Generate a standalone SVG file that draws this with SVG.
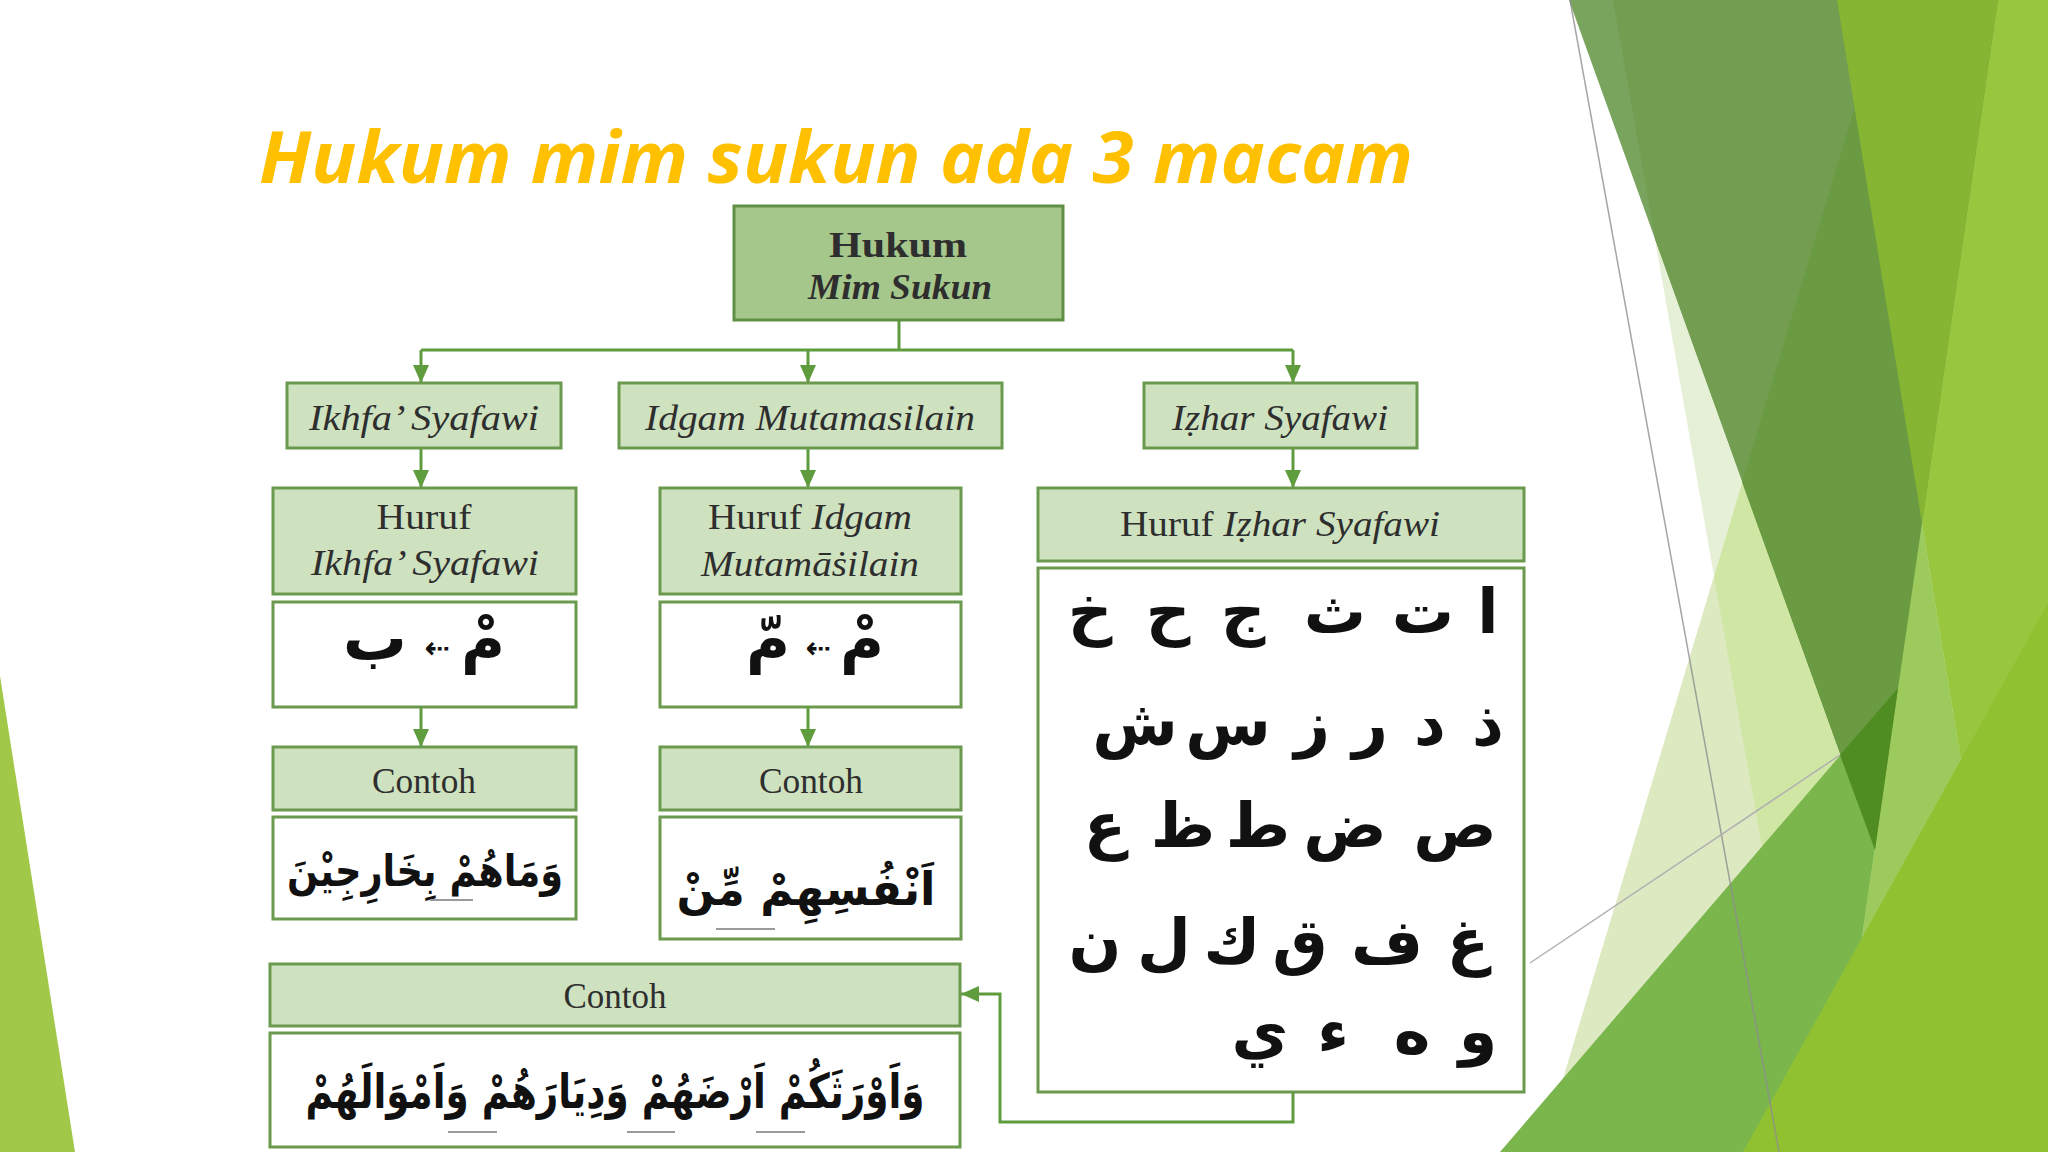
<svg xmlns="http://www.w3.org/2000/svg" width="2048" height="1152" viewBox="0 0 2048 1152">
<defs>
<style>
.box{fill:#cfe2c0;stroke:#6b9a4f;stroke-width:3}
.top{fill:#a6c78b;stroke:#5f8f45;stroke-width:3}
.wbox{fill:#ffffff;stroke:#6b9a4f;stroke-width:3}
.t{font-family:"Liberation Serif",serif;font-size:36px;fill:#2e2e2e;text-anchor:middle}
.i{font-style:italic}
.b{font-weight:bold}
.ar{font-family:"DejaVu Sans",sans-serif;font-weight:bold;fill:#111111;text-anchor:middle}
.lt{font-family:"DejaVu Sans",sans-serif;font-weight:bold;fill:#111111;text-anchor:middle;font-size:62px}
.conn{stroke:#5e9c3e;stroke-width:3;fill:none}
.ul{stroke:#9a9a9a;stroke-width:2}
</style>
<marker id="ah" markerUnits="userSpaceOnUse" markerWidth="18" markerHeight="16" refX="18" refY="8" orient="auto">
<path d="M0,0 L18,8 L0,16 z" fill="#5e9c3e"/>
</marker>
</defs>
<rect width="2048" height="1152" fill="#ffffff"/>
<g id="background">
<polygon points="1887,0 2048,0 2048,1152 1541,1152" fill="#dde9c0"/>
<polygon points="1887,0 2048,0 2048,1152 1816,1152 1714,576" fill="#d0e6a4"/>
<polygon points="1613,0 1887,0 1714,576" fill="#e6f0d6"/>
<polygon points="1569,0 1998,0 1875,850" fill="#79a45e"/>
<polygon points="1613,0 1998,0 1875,850 1655,239" fill="#739e52"/>
<polygon points="1887,0 1998,0 1875,850 1742,482" fill="#6a9a42"/>
<polygon points="1998,0 2048,0 2048,1152 2025,1152 1922,523" fill="#98c63e"/>
<polygon points="1837,0 1998,0 1922,523" fill="#85b532"/>
<polygon points="1922,523 2025,1152 1831,1152" fill="#9dca5c"/>
<polygon points="1500,1152 1898,688 1831,1152" fill="#7ab64c"/>
<polygon points="1840,755 1898,688 1875,850" fill="#4f8c22"/>
<polygon points="2048,603 2048,1152 1743,1152" fill="#90c131"/>
<line x1="1570" y1="0" x2="1779" y2="1152" stroke="#8f8f8f" stroke-width="1.5" opacity="0.8"/>
<line x1="1530" y1="963" x2="1840" y2="755" stroke="#b0b0b0" stroke-width="1.5"/>
<polygon points="0,676 75,1152 0,1152" fill="#a2c84a"/>
</g>
<text id="title" x="259" y="183" font-family="Open Sans, sans-serif" font-weight="700" font-style="italic" font-size="72" fill="#FFC000" textLength="1154" lengthAdjust="spacingAndGlyphs">Hukum mim sukun ada 3 macam</text>
<g id="connectors">
<path class="conn" d="M899,320 V350 M421,350 H1293"/>
<path class="conn" d="M421,350 V383" marker-end="url(#ah)"/>
<path class="conn" d="M808,350 V383" marker-end="url(#ah)"/>
<path class="conn" d="M1293,350 V383" marker-end="url(#ah)"/>
<path class="conn" d="M421,448 V488" marker-end="url(#ah)"/>
<path class="conn" d="M808,448 V488" marker-end="url(#ah)"/>
<path class="conn" d="M1293,448 V488" marker-end="url(#ah)"/>
<path class="conn" d="M421,707 V747" marker-end="url(#ah)"/>
<path class="conn" d="M808,707 V747" marker-end="url(#ah)"/>
<path class="conn" d="M1293,1092 V1122 H1000 V994 H961" marker-end="url(#ah)"/>
</g>
<g id="node-hukum">
<rect class="top" x="734" y="206" width="329" height="114"/>
<text class="t b" x="898" y="257" textLength="138" lengthAdjust="spacingAndGlyphs">Hukum</text>
<text class="t b i" x="900" y="299" textLength="184" lengthAdjust="spacingAndGlyphs">Mim Sukun</text>
</g>
<g id="node-ikhfa">
<rect class="box" x="287" y="383" width="274" height="65"/>
<text class="t i" x="424" y="430" textLength="230" lengthAdjust="spacingAndGlyphs">Ikhfa’ Syafawi</text>
</g>
<g id="node-idgam">
<rect class="box" x="619" y="383" width="383" height="65"/>
<text class="t i" x="810" y="430" textLength="330" lengthAdjust="spacingAndGlyphs">Idgam Mutamasilain</text>
</g>
<g id="node-izhar">
<rect class="box" x="1144" y="383" width="273" height="65"/>
<text class="t i" x="1280" y="430" textLength="216" lengthAdjust="spacingAndGlyphs">Iẓhar Syafawi</text>
</g>
<g id="node-huruf-ikhfa">
<rect class="box" x="273" y="488" width="303" height="106"/>
<text class="t" x="424" y="529" textLength="95" lengthAdjust="spacingAndGlyphs">Huruf</text>
<text class="t i" x="425" y="575" textLength="228" lengthAdjust="spacingAndGlyphs">Ikhfa’ Syafawi</text>
<rect class="wbox" x="273" y="602" width="303" height="105"/>
<text class="ar" x="375" y="660" font-size="64">ب</text>
<text class="ar" x="437" y="658" font-size="30">⇠</text>
<text class="ar" x="483" y="660" font-size="60">مْ</text>
</g>
<g id="node-huruf-idgam">
<rect class="box" x="660" y="488" width="301" height="106"/>
<text class="t" x="810" y="529" textLength="204" lengthAdjust="spacingAndGlyphs">Huruf <tspan class="i">Idgam</tspan></text>
<text class="t i" x="810" y="576" textLength="218" lengthAdjust="spacingAndGlyphs">Mutamāṡilain</text>
<rect class="wbox" x="660" y="602" width="301" height="105"/>
<text class="ar" x="768" y="660" font-size="60">مّ</text>
<text class="ar" x="818" y="658" font-size="30">⇠</text>
<text class="ar" x="862" y="660" font-size="60">مْ</text>
</g>
<g id="node-huruf-izhar">
<rect class="box" x="1038" y="488" width="486" height="73"/>
<text class="t" x="1280" y="536" textLength="320" lengthAdjust="spacingAndGlyphs">Huruf <tspan class="i">Iẓhar Syafawi</tspan></text>
<rect class="wbox" x="1038" y="568" width="486" height="524"/>
<text class="lt" x="1488" y="633">ا</text>
<text class="lt" x="1423" y="633">ت</text>
<text class="lt" x="1335" y="633">ث</text>
<text class="lt" x="1243" y="633">ج</text>
<text class="lt" x="1168" y="633">ح</text>
<text class="lt" x="1090" y="633">خ</text>
<text class="lt" x="1488" y="745">ذ</text>
<text class="lt" x="1430" y="745">د</text>
<text class="lt" x="1370" y="745">ر</text>
<text class="lt" x="1312" y="745">ز</text>
<text class="lt" x="1228" y="745" font-size="56">س</text>
<text class="lt" x="1135" y="745" font-size="56">ش</text>
<text class="lt" x="1455" y="847">ص</text>
<text class="lt" x="1345" y="847">ض</text>
<text class="lt" x="1258" y="847">ط</text>
<text class="lt" x="1183" y="847">ظ</text>
<text class="lt" x="1105" y="847">ع</text>
<text class="lt" x="1468" y="963">غ</text>
<text class="lt" x="1387" y="963">ف</text>
<text class="lt" x="1300" y="963">ق</text>
<text class="lt" x="1232" y="963">ك</text>
<text class="lt" x="1164" y="963">ل</text>
<text class="lt" x="1095" y="963">ن</text>
<text class="lt" x="1478" y="1053">و</text>
<text class="lt" x="1412" y="1053">ه</text>
<text class="lt" x="1333" y="1053">ء</text>
<text class="lt" x="1260" y="1053">ي</text>
</g>
<g id="node-contoh-ikhfa">
<rect class="box" x="273" y="747" width="303" height="63"/>
<text class="t" x="424" y="793" textLength="104" lengthAdjust="spacingAndGlyphs">Contoh</text>
<rect class="wbox" x="273" y="817" width="303" height="102"/>
<text class="ar" x="425" y="886" font-size="44" textLength="276" lengthAdjust="spacingAndGlyphs">وَمَاهُمْ بِخَارِجِيْنَ</text>
<line class="ul" x1="430" y1="900" x2="473" y2="900"/>
</g>
<g id="node-contoh-idgam">
<rect class="box" x="660" y="747" width="301" height="63"/>
<text class="t" x="811" y="793" textLength="104" lengthAdjust="spacingAndGlyphs">Contoh</text>
<rect class="wbox" x="660" y="817" width="301" height="122"/>
<text class="ar" x="806" y="905" font-size="46" textLength="259" lengthAdjust="spacingAndGlyphs">اَنْفُسِهِمْ مِّنْ</text>
<line class="ul" x1="716" y1="929" x2="775" y2="929"/>
</g>
<g id="node-contoh-izhar">
<rect class="box" x="270" y="964" width="690" height="62"/>
<text class="t" x="615" y="1008" textLength="103" lengthAdjust="spacingAndGlyphs">Contoh</text>
<rect class="wbox" x="270" y="1033" width="690" height="114"/>
<text class="ar" x="615" y="1108" font-size="48" textLength="619" lengthAdjust="spacingAndGlyphs">وَاَوْرَثَكُمْ اَرْضَهُمْ وَدِيَارَهُمْ وَاَمْوَالَهُمْ</text>
<line class="ul" x1="448" y1="1132" x2="497" y2="1132"/>
<line class="ul" x1="627" y1="1132" x2="675" y2="1132"/>
<line class="ul" x1="756" y1="1132" x2="805" y2="1132"/>
</g>
</svg>
